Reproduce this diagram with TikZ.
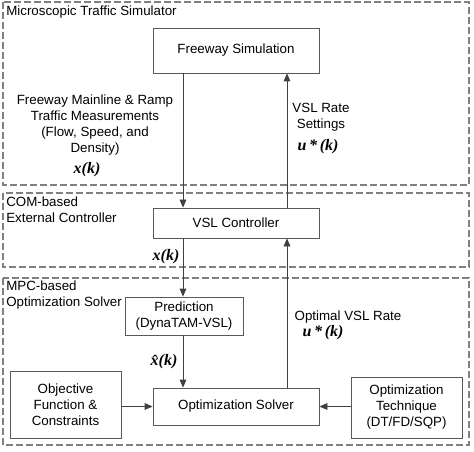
\documentclass[tikz,border=0pt]{standalone}
\usepackage{fontspec}
\setmainfont{Liberation Sans}
\newfontfamily\sigfont{Liberation Serif}
\usetikzlibrary{arrows.meta}

\tikzset{
  groupbox/.style={draw=black!50, line width=1.1pt, dash pattern=on 5pt off 2.5pt},
  blockbox/.style={draw=black!65, line width=0.6pt, inner sep=0pt, align=center},
  flow/.style={draw=black!75, line width=0.6pt, -{Triangle[length=6pt,width=5pt]}},
  sig/.style={font=\sigfont\fontsize{12}{14}\selectfont\bfseries\itshape, inner sep=0pt},
  note/.style={align=center, inner sep=0pt}
}

\begin{document}
\begin{tikzpicture}[x=0.75pt,y=-0.75pt,font=\fontsize{10}{12}\selectfont]
\useasboundingbox (0,0) rectangle (474,452);
% dashed groups
\draw [groupbox] (3,2) rectangle (469,185);
\draw [groupbox] (3,193) rectangle (469,267);
\draw [groupbox] (3,278) rectangle (469,445);
\node (g1) [anchor=west, inner sep=0pt] at (6,12) {Microscopic Traffic Simulator};
\node (g2) [anchor=north west, align=left, inner sep=0pt] at (6,197) {COM-based\\External Controller};
\node (g3) [anchor=north west, align=left, inner sep=0pt] at (6,281) {MPC-based\\Optimization Solver};
% blocks
\node (fs) [blockbox, minimum width=124.5pt, minimum height=33.75pt] at (236,50.5) {Freeway Simulation};
\node (vsl) [blockbox, minimum width=124.5pt, minimum height=22.5pt] at (236,223) {VSL Controller};
\node (pred) [blockbox, minimum width=88.5pt, minimum height=28.5pt] at (184,316) {Prediction\\(DynaTAM-VSL)};
\node (opt) [blockbox, minimum width=124.5pt, minimum height=27.75pt] at (236,406.5) {Optimization Solver};
\node (obj) [blockbox, minimum width=83.25pt, minimum height=50.25pt] at (65.5,404.5) {Objective\\Function \&\\Constraints};
\node (tech) [blockbox, minimum width=83.25pt, minimum height=45.75pt] at (406.5,407.5) {Optimization\\Technique\\(DT/FD/SQP)};
% signal lanes
\coordinate (down) at (183,0);
\coordinate (up) at (287,0);
\draw [flow] (fs.south -| down) -- (vsl.north -| down);
\draw [flow] (vsl.south -| down) -- (pred.north -| down);
\draw [flow] (pred.south -| down) -- (opt.north -| down);
\draw [flow] (vsl.north -| up) -- (fs.south -| up);
\draw [flow] (opt.north -| up) -- (vsl.south -| up);
\draw [flow] (obj.east |- opt) -- (opt.west);
\draw [flow] (tech.west |- opt) -- (opt.east);
% labels
\node (meas) [note] at (95,125.5) {Freeway Mainline \& Ramp\\Traffic Measurements\\(Flow, Speed, and\\Density)};
\node (x1) [sig] at (87,170) {x(k)};
\node (rate) [note] at (321,117.5) {VSL Rate\\Settings};
\node (u1) [sig] at (318,147) {u\,*\,(k)};
\node (x2) [sig] at (166,257) {x(k)};
\node (xh) [sig] at (164,362) {\^{x}(k)};
\node (orate) [note] at (348,317) {Optimal VSL Rate};
\node (u2) [sig] at (323,333) {u\,*\,(k)};
\end{tikzpicture}
\end{document}
